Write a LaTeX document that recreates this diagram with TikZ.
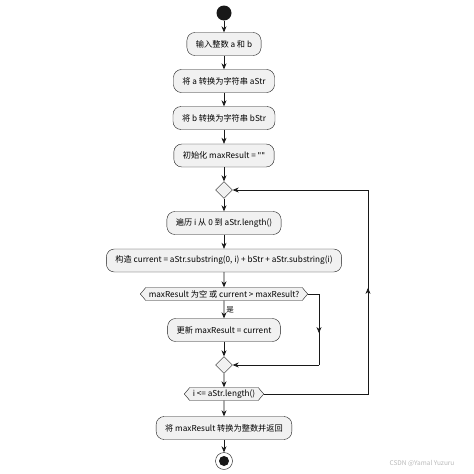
\documentclass[tikz,border=0pt]{standalone}
\usepackage{fontspec}
\setmainfont{Noto Sans CJK SC}
\newfontfamily\quotefont{DejaVu Sans}
\usetikzlibrary{shapes.geometric, shapes.symbols, calc, arrows.meta}
\definecolor{boxfill}{HTML}{F1F1F1}
\definecolor{linecol}{HTML}{181818}
\tikzset{>={Stealth[length=6pt, width=5pt]}}
\tikzset{
    act/.style={draw=linecol, fill=boxfill, rounded corners=8pt, minimum height=23pt,
        inner xsep=9pt, font=\fontsize{8.2}{10}\selectfont},
    merge/.style={draw=linecol, fill=boxfill, diamond, minimum size=17pt, inner sep=0pt},
    cond/.style={draw=linecol, fill=boxfill, signal, signal to=west and east,
        signal pointer angle=100, minimum height=13pt, inner xsep=3pt, inner ysep=1pt,
        font=\fontsize{8.2}{10}\selectfont},
    flow/.style={->, draw=linecol, line width=0.6pt},
    link/.style={draw=linecol, line width=0.6pt}
}

\begin{document}
\begin{tikzpicture}[x=1pt, y=-1pt]
    \useasboundingbox (0,0) rectangle (474,474);
    \node[circle, fill=linecol, minimum size=15pt, inner sep=0pt] (start) at (224,13) {};
    \node[act] (input) at (224,44) {输入整数 a 和 b};
    \node[act] (toastr) at (224,81) {将 a 转换为字符串 aStr};
    \node[act] (tobstr) at (224,118) {将 b 转换为字符串 bStr};
    \node[act] (init) at (224,155.5) {初始化 maxResult = {\quotefont\char34\char34}};
    \node[merge] (loop) at (224,190) {};
    \node[act] (iter) at (224,223) {遍历 i 从 0 到 aStr.length()};
    \node[act] (build) at (224,260.5) {构造 current = aStr.substring(0, i) + bStr + aStr.substring(i)};
    \node[cond] (check) at (224,294) {maxResult 为空 或 current > maxResult?};
    \node[act] (update) at (224,330) {更新 maxResult = current};
    \node[merge] (join) at (224,365) {};
    \node[cond] (repeat) at (224,394) {i <= aStr.length()};
    \node[act] (ret) at (224,428) {将 maxResult 转换为整数并返回};
    \node[circle, draw=linecol, fill=white, minimum size=17pt, inner sep=0pt] (stop) at (224,461) {};
    \fill[linecol] (stop) circle (5pt);

    \draw[flow] (start) -- (input);
    \draw[flow] (input) -- (toastr);
    \draw[flow] (toastr) -- (tobstr);
    \draw[flow] (tobstr) -- (init);
    \draw[flow] (init) -- (loop);
    \draw[flow] (loop) -- (iter);
    \draw[flow] (iter) -- (build);
    \draw[flow] (build) -- (check);
    \draw[flow] (check) -- node[right, font=\fontsize{7.5}{8}\selectfont, inner sep=2pt] {是} (update);
    \draw[flow] (update) -- (join);
    \draw[flow] (join) -- (repeat);
    \draw[flow] (repeat) -- (ret);
    \draw[flow] (ret) -- (stop);

    % no branch
    \coordinate (nox) at (319,0);
    \draw[link] (check.east) -- (check.east -| nox) -- (join.east -| nox);
    \draw[flow] (check.east -| nox) -- ($(check.east -| nox)!0.55!(join.east -| nox)$);
    \draw[flow] (join.east -| nox) -- (join.east);

    % back to loop start
    \coordinate (backx) at (368,0);
    \draw[link] (repeat.east) -- (repeat.east -| backx) -- (loop.east -| backx);
    \draw[flow] (repeat.east -| backx) -- ($(repeat.east -| backx)!0.52!(loop.east -| backx)$);
    \draw[flow] (loop.east -| backx) -- (loop.east);

    \node[text=gray!55, font=\fontsize{6.5}{8}\selectfont] (mark) at (422,463) {CSDN @Yamal Yuzuru};
\end{tikzpicture}
\end{document}
